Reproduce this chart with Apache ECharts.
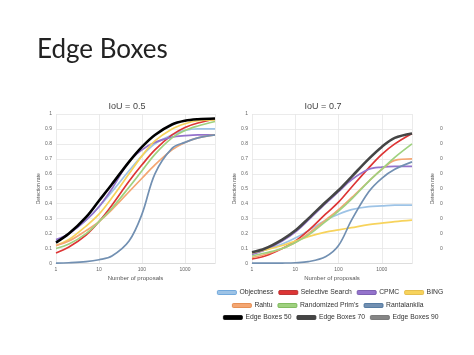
<!DOCTYPE html>
<html>
<head>
<meta charset="utf-8">
<script src="https://cdn.jsdelivr.net/npm/echarts@6/dist/echarts.min.js"></script>
<style>
html,body{margin:0;padding:0;background:#fff;}
#c{width:474px;height:355px;}
</style>
</head>
<body>
<div id="c"></div>
<script>
// Number of proposals (x samples, log axis)
const proposals = [1, 2, 5, 10, 20, 50, 100, 200, 500, 1000, 2000, 5000];
const xTickLabels = ['1', '10', '100', '1000'];

// IoU = 0.5
const objectness05   = [0.15, 0.20, 0.29, 0.38, 0.48, 0.62, 0.72, 0.80, 0.86, 0.89, 0.90, 0.90];
const selective05    = [0.07, 0.11, 0.19, 0.28, 0.39, 0.55, 0.66, 0.76, 0.86, 0.91, 0.94, 0.965];
const cpmc05         = [0.16, 0.20, 0.29, 0.38, 0.50, 0.68, 0.76, 0.81, 0.845, 0.855, 0.86, 0.86];
const bing05         = [0.12, 0.16, 0.25, 0.33, 0.44, 0.60, 0.72, 0.82, 0.90, 0.935, 0.955, 0.96];
const rahtu05        = [0.12, 0.15, 0.22, 0.28, 0.36, 0.48, 0.57, 0.66, 0.76, 0.81, 0.84, 0.86];
const prim05         = [0.10, 0.13, 0.20, 0.28, 0.37, 0.51, 0.62, 0.73, 0.84, 0.89, 0.92, 0.95];
const rantalankila05 = [0.003, 0.005, 0.012, 0.025, 0.05, 0.15, 0.33, 0.60, 0.77, 0.81, 0.84, 0.86];
const edgeBoxes50    = [0.14, 0.20, 0.31, 0.42, 0.53, 0.68, 0.78, 0.86, 0.93, 0.955, 0.965, 0.97];

// IoU = 0.7
const objectness07   = [0.07, 0.09, 0.13, 0.17, 0.22, 0.29, 0.33, 0.36, 0.38, 0.385, 0.39, 0.39];
const selective07    = [0.03, 0.05, 0.10, 0.15, 0.22, 0.33, 0.41, 0.51, 0.64, 0.73, 0.80, 0.87];
const cpmc07         = [0.06, 0.09, 0.15, 0.21, 0.29, 0.40, 0.48, 0.56, 0.63, 0.645, 0.65, 0.65];
const bing07         = [0.07, 0.09, 0.12, 0.15, 0.18, 0.21, 0.225, 0.24, 0.26, 0.27, 0.28, 0.29];
const rahtu07        = [0.04, 0.06, 0.10, 0.14, 0.20, 0.29, 0.36, 0.44, 0.55, 0.63, 0.69, 0.70];
const prim07         = [0.05, 0.07, 0.10, 0.14, 0.19, 0.28, 0.35, 0.43, 0.55, 0.63, 0.71, 0.80];
const rantalankila07 = [0.002, 0.002, 0.003, 0.005, 0.012, 0.045, 0.12, 0.29, 0.48, 0.57, 0.63, 0.68];
const edgeBoxes70    = [0.075, 0.10, 0.16, 0.22, 0.30, 0.41, 0.49, 0.58, 0.70, 0.78, 0.84, 0.87];

const legendRow1 = ['Objectness', 'Selective Search', 'CPMC', 'BING'];
const legendRow2 = ['Rahtu', "Randomized Prim's", 'Rantalankila'];
const legendRow3 = ['Edge Boxes 50', 'Edge Boxes 70', 'Edge Boxes 90'];

const colors = {
  'Objectness': ['#9dc3e6', '#5b9bd5'],
  'Selective Search': ['#dd3535', '#b02020'],
  'CPMC': ['#9473cc', '#6a4aa5'],
  'BING': ['#f7d35c', '#e0b43a'],
  'Rahtu': ['#f4a672', '#e07f3c'],
  "Randomized Prim's": ['#9fd17f', '#6fae4a'],
  'Rantalankila': ['#7290b2', '#3f6a96'],
  'Edge Boxes 50': ['#000000', '#000000'],
  'Edge Boxes 70': ['#454545', '#303030'],
  'Edge Boxes 90': ['#858585', '#6a6a6a']
};

function pts(ys) { return proposals.map((x, i) => [x, ys[i]]); }

function mkSeries(name, ys, idx) {
  const isEB = name.indexOf('Edge Boxes') === 0;
  return {
    name: name, type: 'line', xAxisIndex: idx, yAxisIndex: idx,
    data: ys ? pts(ys) : [], smooth: 0.35, showSymbol: false, symbol: 'none',
    lineStyle: { color: colors[name][0], width: isEB ? 2.6 : 1.7 },
    itemStyle: { color: colors[name][0] },
    z: isEB ? 5 : 2
  };
}

const font = 'Liberation Sans, Arial, sans-serif';

function xAx(idx, show) {
  return {
    type: 'log', gridIndex: idx, min: 1, max: 5000, logBase: 10, show: show,
    name: 'Number of proposals', nameLocation: 'middle', nameGap: 12,
    nameTextStyle: { fontSize: 6, color: '#555', fontFamily: font },
    axisLine: { show: true, lineStyle: { color: '#d9d9d9', width: 0.8 } },
    axisTick: { show: false },
    axisLabel: {
      fontSize: 5, color: '#666', margin: 4, fontFamily: font, showMaxLabel: false,
      formatter: v => { const s = String(Math.round(v)); return xTickLabels.indexOf(s) >= 0 ? s : ''; }
    },
    splitLine: { show: true, lineStyle: { color: '#e6e6e6', width: 0.8 } }
  };
}
function yAx(idx, gap) {
  return {
    type: 'value', gridIndex: idx, min: 0, max: 1, interval: 0.1,
    name: 'Detection rate', nameLocation: 'middle', nameGap: gap, nameRotate: 90,
    nameTextStyle: { fontSize: 5, color: '#555', fontFamily: font },
    axisLine: { show: false }, axisTick: { show: false },
    axisLabel: { fontSize: 5, color: '#666', margin: 4, fontFamily: font,
      showMinLabel: idx !== 2, showMaxLabel: idx !== 2,
      formatter: v => String(Math.round(v * 10) / 10) },
    splitLine: { show: idx !== 2, lineStyle: { color: '#e6e6e6', width: 0.8 } }
  };
}

function legendData(names) {
  return names.map(n => ({ name: n, itemStyle: { color: colors[n][0], borderColor: colors[n][1], borderWidth: 0.8 } }));
}
function mkLegend(names, left, top) {
  return {
    data: legendData(names), left: left, top: top, orient: 'horizontal',
    icon: 'roundRect', itemWidth: 19, itemHeight: 4, itemGap: 5, padding: 0,
    textStyle: { fontSize: 6.8, color: '#333', fontFamily: font, padding: [0, 0, 0, -2] }
  };
}

const chart = echarts.init(document.getElementById('c'), null, { renderer: 'canvas' });
chart.setOption({
  backgroundColor: '#ffffff',
  animation: false,
  title: [
    { text: 'Edge Boxes', left: 37, top: 37, padding: 0,
      textStyle: { fontSize: 26, fontWeight: 'normal', color: '#222', fontFamily: 'Lato, Open Sans, sans-serif' } },
    { text: 'IoU = 0.5', left: 127, top: 102, textAlign: 'center', padding: 0,
      textStyle: { fontSize: 9, fontWeight: 'normal', color: '#444', fontFamily: font } },
    { text: 'IoU = 0.7', left: 323, top: 102, textAlign: 'center', padding: 0,
      textStyle: { fontSize: 9, fontWeight: 'normal', color: '#444', fontFamily: font } }
  ],
  grid: [
    { left: 56, top: 114, width: 159, height: 149.5 },
    { left: 252, top: 114, width: 160, height: 149.5 },
    { left: 451, top: 114, width: 100, height: 149.5 }
  ],
  xAxis: [xAx(0, true), xAx(1, true), xAx(2, false)],
  yAxis: [yAx(0, 12), yAx(1, 10), yAx(2, 16)],
  legend: [
    mkLegend(legendRow1, 217, 289),
    mkLegend(legendRow2, 232, 302),
    mkLegend(legendRow3, 223, 314)
  ],
  series: [
    mkSeries('Objectness', objectness05, 0),
    mkSeries('Selective Search', selective05, 0),
    mkSeries('CPMC', cpmc05, 0),
    mkSeries('BING', bing05, 0),
    mkSeries('Rahtu', rahtu05, 0),
    mkSeries("Randomized Prim's", prim05, 0),
    mkSeries('Rantalankila', rantalankila05, 0),
    mkSeries('Edge Boxes 50', edgeBoxes50, 0),
    mkSeries('Objectness', objectness07, 1),
    mkSeries('Selective Search', selective07, 1),
    mkSeries('CPMC', cpmc07, 1),
    mkSeries('BING', bing07, 1),
    mkSeries('Rahtu', rahtu07, 1),
    mkSeries("Randomized Prim's", prim07, 1),
    mkSeries('Rantalankila', rantalankila07, 1),
    mkSeries('Edge Boxes 70', edgeBoxes70, 1),
    mkSeries('Edge Boxes 90', null, 2)
  ],
  graphic: [
    { type: 'rect', left: 443, top: 98, z: 100,
      shape: { width: 40, height: 186 }, style: { fill: '#ffffff' } }
  ]
});
</script>
</body>
</html>
